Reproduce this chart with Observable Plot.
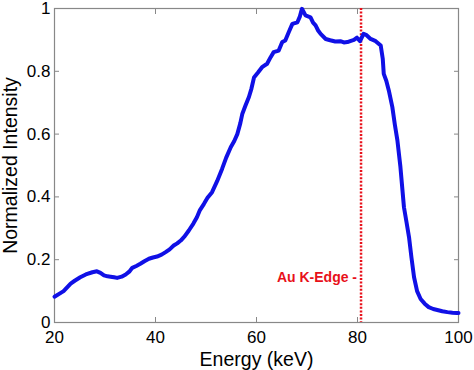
<!DOCTYPE html>
<html>
<head>
<meta charset="utf-8">
<script src="https://cdn.jsdelivr.net/npm/d3@7"></script>
<script src="https://cdn.jsdelivr.net/npm/@observablehq/plot@0.6"></script>
<style>
  html, body { margin: 0; padding: 0; background: #fff; }
  #chart svg { display: block; }
</style>
</head>
<body>
<div id="chart"></div>
<script>
const energy = [20.0,21.0,21.8,22.5,23.2,24.0,25.1,26.2,27.5,28.4,29.1,29.8,30.5,31.1,31.8,32.4,33.3,34.1,34.8,35.4,36.2,37.0,37.8,38.7,39.5,40.3,41.2,42.0,42.8,43.6,44.3,45.0,45.8,46.6,47.5,48.2,48.8,49.6,50.3,51.2,52.2,53.2,54.0,54.9,55.6,56.2,56.8,57.2,57.8,58.5,59.0,59.5,60.3,61.1,62.1,62.8,63.4,64.4,65.1,65.7,66.4,67.1,68.1,68.6,69.0,69.7,70.7,71.2,71.7,72.2,72.7,73.7,74.6,75.6,76.6,77.3,78.0,78.7,79.3,79.9,80.5,81.2,81.8,82.6,83.6,84.6,85.0,85.2,85.7,86.2,86.9,87.4,87.9,88.5,89.2,89.7,90.2,90.7,91.2,91.8,92.5,93.3,94.1,95.0,95.8,96.8,97.8,98.8,99.7,100.0];
const intensity = [0.082,0.092,0.100,0.112,0.124,0.133,0.144,0.153,0.160,0.163,0.158,0.150,0.147,0.146,0.144,0.142,0.146,0.153,0.162,0.174,0.180,0.187,0.195,0.203,0.207,0.210,0.216,0.224,0.233,0.245,0.252,0.261,0.275,0.293,0.315,0.335,0.358,0.378,0.397,0.415,0.450,0.490,0.525,0.558,0.578,0.600,0.635,0.665,0.690,0.718,0.745,0.780,0.796,0.813,0.824,0.845,0.861,0.866,0.893,0.898,0.925,0.951,0.956,0.975,0.999,0.978,0.972,0.955,0.946,0.930,0.919,0.903,0.899,0.895,0.896,0.892,0.893,0.897,0.900,0.907,0.896,0.919,0.915,0.903,0.896,0.882,0.840,0.792,0.770,0.739,0.686,0.630,0.580,0.495,0.367,0.320,0.272,0.205,0.144,0.100,0.075,0.060,0.049,0.043,0.040,0.036,0.033,0.031,0.030,0.030];
const xTicks = [20, 40, 60, 80, 100];
const yTicks = [0, 0.2, 0.4, 0.6, 0.8, 1];
const kEdge = [80.7];
const kEdgeLabel = ["Au K-Edge -"];
const kEdgeLabelY = [0.142];

const spectrum = energy.map((e, i) => ({energy: e, intensity: intensity[i]}));
const edgeData = kEdge.map((k, i) => ({k, label: kEdgeLabel[i], y: kEdgeLabelY[i]}));

const chart = Plot.plot({
  width: 474,
  height: 370,
  marginLeft: 54,
  marginRight: 16,
  marginTop: 8,
  marginBottom: 48,
  style: {fontFamily: "'Liberation Sans', Arial, sans-serif", fontSize: "17px", background: "#fff", color: "#000"},
  x: {domain: [20, 100]},
  y: {domain: [0, 1]},
  marks: [
    Plot.frame({stroke: "#888", strokeWidth: 1.2}),
    Plot.axisX(xTicks, {anchor: "bottom", tickSize: -5, tickPadding: 13, stroke: "#888", fill: "#000", fontSize: 17, tickFormat: d => String(d), label: null}),
    Plot.axisX({anchor: "bottom", ticks: [], label: "Energy (keV)", labelAnchor: "center", labelArrow: "none", labelOffset: 43, fontSize: 19.5, fill: "#000"}),
    Plot.axisX(xTicks, {anchor: "top", tickSize: -5, stroke: "#888", tickFormat: () => "", label: null}),
    Plot.axisY(yTicks, {anchor: "left", tickSize: -5, tickPadding: 9, stroke: "#888", fill: "#000", fontSize: 17, tickFormat: d => String(d), label: null}),
    Plot.axisY({anchor: "left", ticks: [], label: "Normalized Intensity", labelAnchor: "center", labelArrow: "none", labelOffset: 51, fontSize: 19.5, fill: "#000"}),
    Plot.axisY(yTicks, {anchor: "right", tickSize: -5, stroke: "#888", tickFormat: () => "", label: null}),
    Plot.ruleX(edgeData, {x: "k", stroke: "#e8101a", strokeWidth: 2.5, strokeDasharray: "2,1.6"}),
    Plot.line(spectrum, {x: "energy", y: "intensity", stroke: "#1010e6", strokeWidth: 4, curve: "linear", strokeLinejoin: "round"}),
    Plot.text(edgeData, {x: "k", y: "y", text: "label", textAnchor: "end", dx: -4, fill: "#e8101a", fontWeight: "bold", fontSize: 14})
  ]
});
document.getElementById("chart").appendChild(chart);
</script>
</body>
</html>
